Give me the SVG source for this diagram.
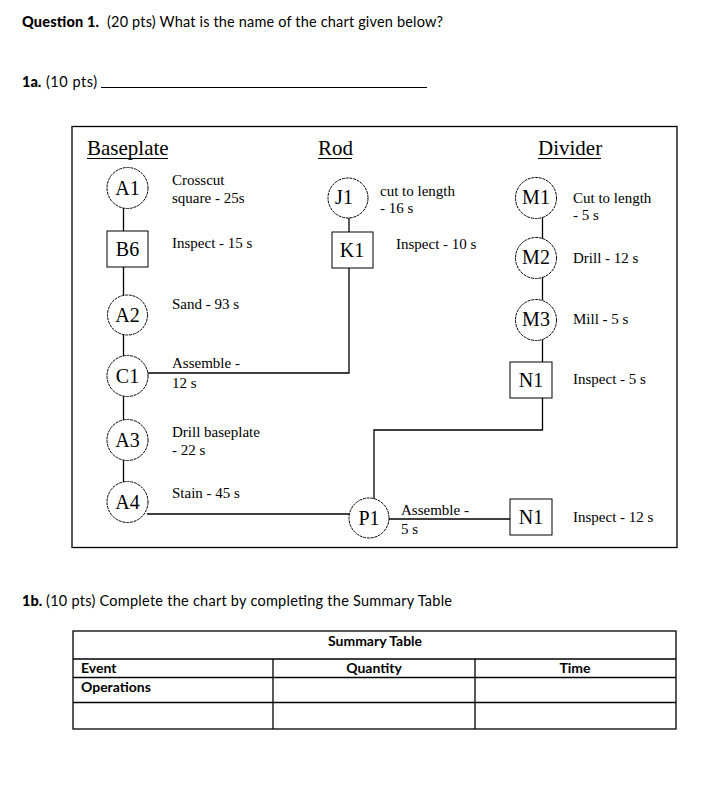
<svg xmlns="http://www.w3.org/2000/svg" width="717" height="795" viewBox="0 0 717 795">
<style>
.q{font-family:Lato,"Liberation Sans",sans-serif;font-size:14.5px;fill:#000}
.b{font-weight:900}
.t{font-family:Lato,"Liberation Sans",sans-serif;font-size:14px;font-weight:bold;fill:#000}
.ti{font-family:"Liberation Serif",serif;font-size:21px;fill:#000}
.lb{font-family:"Liberation Serif",serif;font-size:20px;fill:#000;text-anchor:middle}
.d{font-family:"Liberation Serif",serif;font-size:15px;fill:#000}
.c{fill:#fff;stroke:#000;stroke-width:1;stroke-dasharray:3 0.8}
.r{fill:#fff;stroke:#000;stroke-width:1}
.ln{fill:none;stroke:#000;stroke-width:1.3}
.tb{fill:none;stroke:#000;stroke-width:1.3}
</style>
<rect width="717" height="795" fill="#fff"/>
<text class="q" x="22" y="27"><tspan class="b" textLength="77">Question 1.</tspan><tspan x="107" textLength="336">(20 pts) What is the name of the chart given below?</tspan></text>
<text class="q" x="22" y="87"><tspan class="b">1a.</tspan><tspan x="46" textLength="51">(10 pts)</tspan></text>
<line x1="101" y1="87.5" x2="427" y2="87.5" stroke="#000" stroke-width="1"/>
<rect x="72" y="126.5" width="605" height="421" fill="none" stroke="#000" stroke-width="1.3"/>
<g id="titles">
<text class="ti" x="87" y="155">Baseplate</text>
<line x1="87" y1="158.5" x2="168" y2="158.5" stroke="#000" stroke-width="1"/>
<text class="ti" x="318" y="155">Rod</text>
<line x1="318" y1="158.5" x2="352" y2="158.5" stroke="#000" stroke-width="1"/>
<text class="ti" x="538" y="155">Divider</text>
<line x1="538" y1="158.5" x2="601" y2="158.5" stroke="#000" stroke-width="1"/>
</g>
<g id="connectors">
<polyline class="ln" points="123.5,208 123.5,420"/>
<polyline class="ln" points="123.5,460 123.5,482"/>
<polyline class="ln" points="349,217 349,232"/>
<polyline class="ln" points="349,268 349,373 148,373"/>
<polyline class="ln" points="542.5,218 542.5,240"/>
<polyline class="ln" points="542.5,276 542.5,300"/>
<polyline class="ln" points="542.5,340 542.5,362"/>
<polyline class="ln" points="542.5,398 542.5,430 374,430 374,499"/>
<polyline class="ln" points="147,514 350,514"/>
<polyline class="ln" points="389,519 510,519"/>
</g>
<g id="A1"><circle class="c" cx="127.5" cy="188" r="20.5"/><text class="lb" x="127.5" y="195">A1</text>
<text class="d" x="172" y="185">Crosscut</text><text class="d" x="172" y="203">square - 25s</text></g>
<g id="B6"><rect class="r" x="107" y="231" width="41" height="36"/><text class="lb" x="127.5" y="256">B6</text>
<text class="d" x="172" y="248">Inspect - 15 s</text></g>
<g id="A2"><circle class="c" cx="127.5" cy="315" r="20"/><text class="lb" x="127.5" y="322">A2</text>
<text class="d" x="172" y="309">Sand - 93 s</text></g>
<g id="C1"><circle class="c" cx="127.5" cy="376" r="20.5"/><text class="lb" x="127.5" y="383">C1</text>
<text class="d" x="172" y="368">Assemble -</text><text class="d" x="172" y="388">12 s</text></g>
<g id="A3"><circle class="c" cx="127.5" cy="440" r="20.5"/><text class="lb" x="127.5" y="447">A3</text>
<text class="d" x="172" y="437">Drill baseplate</text><text class="d" x="172" y="455">- 22 s</text></g>
<g id="A4"><circle class="c" cx="127.5" cy="502" r="20.5"/><text class="lb" x="127.5" y="509">A4</text>
<text class="d" x="172" y="498">Stain - 45 s</text></g>
<g id="J1"><circle class="c" cx="348" cy="198" r="20"/><text class="lb" x="344" y="204">J1</text>
<text class="d" x="380" y="196">cut to length</text><text class="d" x="380" y="213">- 16 s</text></g>
<g id="K1"><rect class="r" x="332" y="232" width="41" height="36"/><text class="lb" x="352" y="257">K1</text>
<text class="d" x="396" y="249">Inspect - 10 s</text></g>
<g id="M1"><circle class="c" cx="536" cy="198" r="20.5"/><text class="lb" x="536" y="204">M1</text>
<text class="d" x="573" y="203">Cut to length</text><text class="d" x="573" y="220">- 5 s</text></g>
<g id="M2"><circle class="c" cx="536" cy="258" r="20.5"/><text class="lb" x="536" y="264">M2</text>
<text class="d" x="573" y="263">Drill - 12 s</text></g>
<g id="M3"><circle class="c" cx="536" cy="320" r="20.5"/><text class="lb" x="536" y="326">M3</text>
<text class="d" x="573" y="324">Mill - 5 s</text></g>
<g id="N1a"><rect class="r" x="510" y="362" width="42" height="36"/><text class="lb" x="531" y="387">N1</text>
<text class="d" x="573" y="384">Inspect - 5 s</text></g>
<g id="P1"><circle class="c" cx="369" cy="518" r="20"/><text class="lb" x="369" y="525">P1</text>
<text class="d" x="401" y="515">Assemble -</text><text class="d" x="401" y="534">5 s</text></g>
<g id="N1b"><rect class="r" x="510" y="499" width="42" height="36"/><text class="lb" x="531" y="524">N1</text>
<text class="d" x="573" y="522">Inspect - 12 s</text></g>
<text class="q" x="22" y="606"><tspan class="b">1b.</tspan><tspan x="46" textLength="406">(10 pts) Complete the chart by completing the Summary Table</tspan></text>
<g id="table">
<rect class="tb" x="73" y="631" width="603" height="98"/>
<line class="tb" x1="73" y1="659" x2="676" y2="659"/>
<line class="tb" x1="73" y1="677.5" x2="676" y2="677.5"/>
<line class="tb" x1="73" y1="702.5" x2="676" y2="702.5"/>
<line class="tb" x1="273" y1="659" x2="273" y2="729"/>
<line class="tb" x1="475" y1="659" x2="475" y2="729"/>
<text class="t" x="375" y="646" text-anchor="middle">Summary Table</text>
<text class="t" x="81" y="673">Event</text>
<text class="t" x="374" y="673" text-anchor="middle">Quantity</text>
<text class="t" x="575" y="673" text-anchor="middle">Time</text>
<text class="t" x="81" y="692">Operations</text>
</g>
</svg>
